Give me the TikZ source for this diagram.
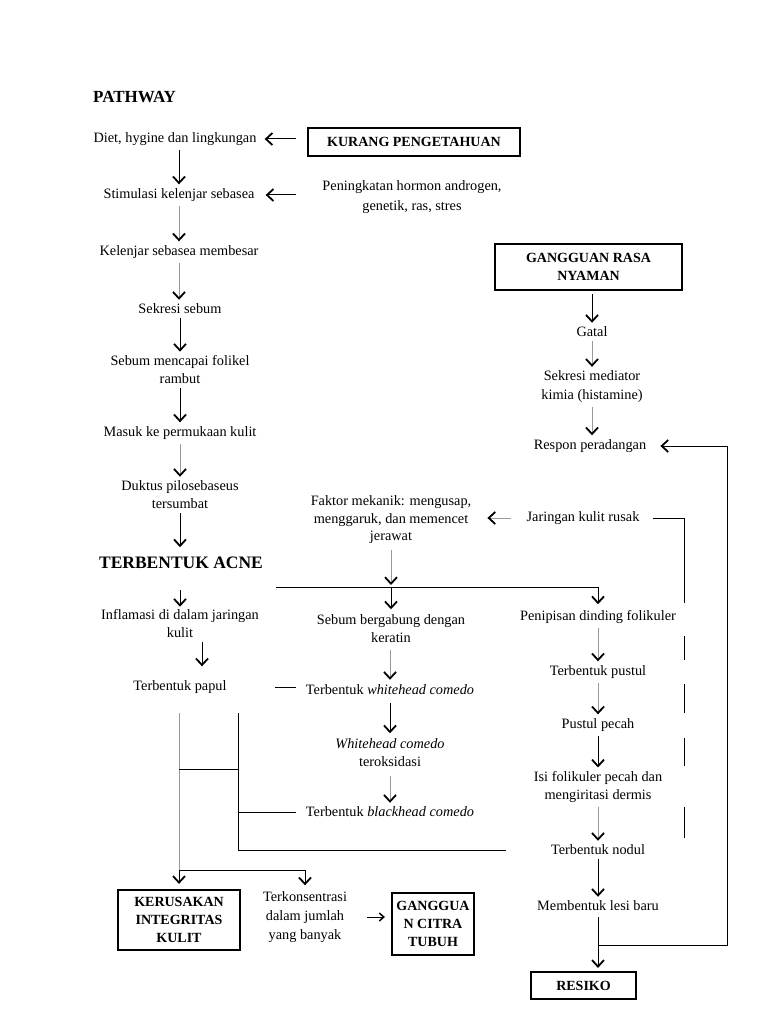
\documentclass[tikz,border=0pt]{standalone}
\usepackage{fontspec}
\setmainfont{Liberation Serif}
\usetikzlibrary{arrows.meta}
\begin{document}
\begin{tikzpicture}[x=1pt,y=-1pt,
  txt/.style={font=\fontsize{14.3}{18}\selectfont, align=center, inner sep=1pt},
  hbox/.style={draw, line width=2.2pt, font=\bfseries\fontsize{14}{18}\selectfont, align=center, inner sep=2pt},
  ln/.style={line width=1pt},
  gln/.style={line width=0.8pt, draw=black!40},
  tip/.style={-{Straight Barb[length=6.5pt,width=12pt,line width=1.8pt,color=black]}},
  smalltip/.style={-{Straight Barb[length=4.5pt,width=8pt,line width=1.5pt,color=black]}},
  arr/.style={ln, tip, shorten <=3pt, shorten >=3pt},
  garr/.style={gln, tip, shorten <=3pt, shorten >=3pt},
]
\fill[white] (0,0) rectangle (768,1024);
\useasboundingbox (0,0) rectangle (768,1024);

% ---- nodes ----
\node[anchor=base west, inner sep=0, font=\bfseries\fontsize{17}{20}\selectfont] (title) at (93,103) {PATHWAY};
\node[txt] (diet) at (175,139) {Diet, hygine dan lingkungan};
\node[hbox, minimum width=212pt, minimum height=28pt] (kurang) at (414,142) {KURANG PENGETAHUAN};
\node[txt] (stim) at (179,195) {Stimulasi kelenjar sebasea};
\node[txt, font=\fontsize{14.3}{20}\selectfont] (pen) at (412,197) {Peningkatan hormon androgen,\\genetik, ras, stres};
\node[txt] (kel) at (179,252) {Kelenjar sebasea membesar};
\node[txt] (sek) at (180,309) {Sekresi sebum};
\node[txt] (sebf) at (180,370) {Sebum mencapai folikel\\rambut};
\node[txt] (masuk) at (180,433) {Masuk ke permukaan kulit};
\node[txt] (duktus) at (180,495) {Duktus pilosebaseus\\tersumbat};
\node[anchor=base, inner sep=1pt, font=\bfseries\fontsize{17.5}{20}\selectfont] (acne) at (181,568) {TERBENTUK ACNE};

\node[hbox, minimum width=187pt, minimum height=46pt] (nyaman) at (588.5,267) {GANGGUAN RASA\\NYAMAN};
\node[txt] (gatal) at (592,332) {Gatal};
\node[txt, font=\fontsize{14.3}{19}\selectfont] (med) at (592,387) {Sekresi mediator\\kimia (histamine)};
\node[txt] (respon) at (590,446) {Respon peradangan};
\node[txt, font=\fontsize{14.3}{17.5}\selectfont] (faktor) at (391,520) {Faktor mekanik: mengusap,\\menggaruk, dan memencet\\jerawat};
\node[txt] (jar) at (583,518) {Jaringan kulit rusak};

\node[txt] (infl) at (180,624) {Inflamasi di dalam jaringan\\kulit};
\node[txt] (papul) at (180,687) {Terbentuk papul};
\node[txt] (seb) at (391,628.5) {Sebum bergabung dengan\\keratin};
\node[txt] (white) at (390,690) {Terbentuk \textit{whitehead comedo}};
\node[txt] (oks) at (390,752.5) {\textit{Whitehead comedo}\\teroksidasi};
\node[txt] (black) at (390,812) {Terbentuk \textit{blackhead comedo}};

\node[txt] (peni) at (598,617) {Penipisan dinding folikuler};
\node[txt] (pustul) at (598,672) {Terbentuk pustul};
\node[txt] (pecah) at (598,725) {Pustul pecah};
\node[txt, font=\fontsize{14.3}{17.5}\selectfont] (isi) at (598,787) {Isi folikuler pecah dan\\mengiritasi dermis};
\node[txt] (nodul) at (598,850) {Terbentuk nodul};
\node[txt] (lesi) at (598,906) {Membentuk lesi baru};

\node[hbox, minimum width=122pt, minimum height=60pt] (kerus) at (179,920) {KERUSAKAN\\INTEGRITAS\\KULIT};
\node[txt, font=\fontsize{14.3}{19}\selectfont] (terk) at (305,917) {Terkonsentrasi\\dalam jumlah\\yang banyak};
\node[hbox, minimum width=82pt, minimum height=62pt] (citra) at (433,924) {GANGGUA\\N CITRA\\TUBUH};
\node[hbox, minimum width=105pt, minimum height=27pt] (resiko) at (583.5,985.5) {RESIKO};

% ---- coordinates ----
\coordinate (lc) at (179,0);
\coordinate (h1) at (276,587);
\coordinate (ix) at (202,0);
\coordinate (a1) at (179,713);
\coordinate (a2) at (179,870);
\coordinate (am) at (179,769);
\coordinate (b1) at (238,713);
\coordinate (jr) at (684,518);
\coordinate (bl) at (598,945);
\coordinate (br) at (727,945);
\coordinate (tr) at (727,446);

% ---- left column ----
\draw[arr, shorten <=11pt, shorten >=7pt] (kurang.west |- diet.east) -- (diet.east);
\draw[arr] (diet.south -| lc) -- (stim.north -| lc);
\draw[arr, shorten <=25pt, shorten >=10pt] (pen.west |- stim.east) -- (stim.east);
\draw[garr] (stim.south -| lc) -- (kel.north -| lc);
\draw[garr] (kel.south -| lc) -- (sek.north -| lc);
\draw[arr] (sek.south) -- (sebf.north);
\draw[arr] (sebf.south) -- (masuk.north);
\draw[garr] (masuk.south) -- (duktus.north);
\draw[arr, shorten >=8pt] (duktus.south) -- (duktus.south |- acne.north);

% ---- right top ----
\draw[arr] (nyaman.south -| gatal) -- (gatal.north);
\draw[garr] (gatal.south) -- (med.north);
\draw[garr] (med.south) -- (med.south |- respon.north);
\draw[garr, shorten <=14pt, shorten >=15pt] (jar.west) -- (faktor.east |- jar.west);
\draw[ln, shorten <=12pt] (jar.east) -- (jr);
\draw[ln] (jr) -- ++(0,85) ++(0,33) -- ++(0,24) ++(0,24) -- ++(0,29) ++(0,25) -- ++(0,28) ++(0,41) -- ++(0,31);

% ---- branching below acne ----
\draw[garr, shorten <=5pt, shorten >=2pt] (faktor.south) -- (faktor.south |- h1);
\draw[arr, shorten <=0pt, shorten >=5pt] (h1) -| (peni.north);
\draw[arr, shorten <=0pt, shorten >=4pt] (faktor.south |- h1) -- (seb.north);
\draw[arr, shorten <=21pt, shorten >=2pt] (infl.north |- acne.south) -- (infl.north);
\draw[arr, shorten >=13pt] (infl.south -| ix) -- (papul.north -| ix);
\draw[ln, shorten <=47pt, shorten >=9pt] (papul.east) -- (white.west |- papul.east);
\draw[garr, shorten <=6pt, shorten >=4pt] (seb.south -| white) -- (white.north);
\draw[arr, shorten <=7pt, shorten >=4pt] (white.south) -- (oks.north);
\draw[garr, shorten <=8pt, shorten >=3pt] (oks.south) -- (black.north);

% ---- right column ----
\draw[garr] (peni.south) -- (pustul.north);
\draw[garr] (pustul.south) -- (pecah.north);
\draw[arr] (pecah.south) -- (isi.north);
\draw[garr] (isi.south) -- (nodul.north);
\draw[arr] (nodul.south) -- (lesi.north);
\draw[arr, shorten <=5pt, shorten >=13pt] (lesi.south) -- (bl) -- (br) -- (tr) -- (respon.east);
\draw[arr, shorten <=0pt] (bl) -- (bl |- resiko.north);

% ---- lower left ----
\draw[gln] (a1) -- (a2);
\draw[ln, shorten >=44pt] (b1) |- (nodul.west);
\draw[ln] (am) -- (am -| b1);
\draw[ln, shorten >=9pt] (b1 |- black.west) -- (black.west);
\draw[arr, shorten <=0pt, shorten >=5pt] (a2) -- (kerus.north);
\draw[arr, shorten <=0pt, shorten >=5pt] (a2) -| (terk.north);
\draw[ln, smalltip, shorten <=19pt, shorten >=6pt] (terk.east) -- (citra.west |- terk.east);
\end{tikzpicture}
\end{document}
